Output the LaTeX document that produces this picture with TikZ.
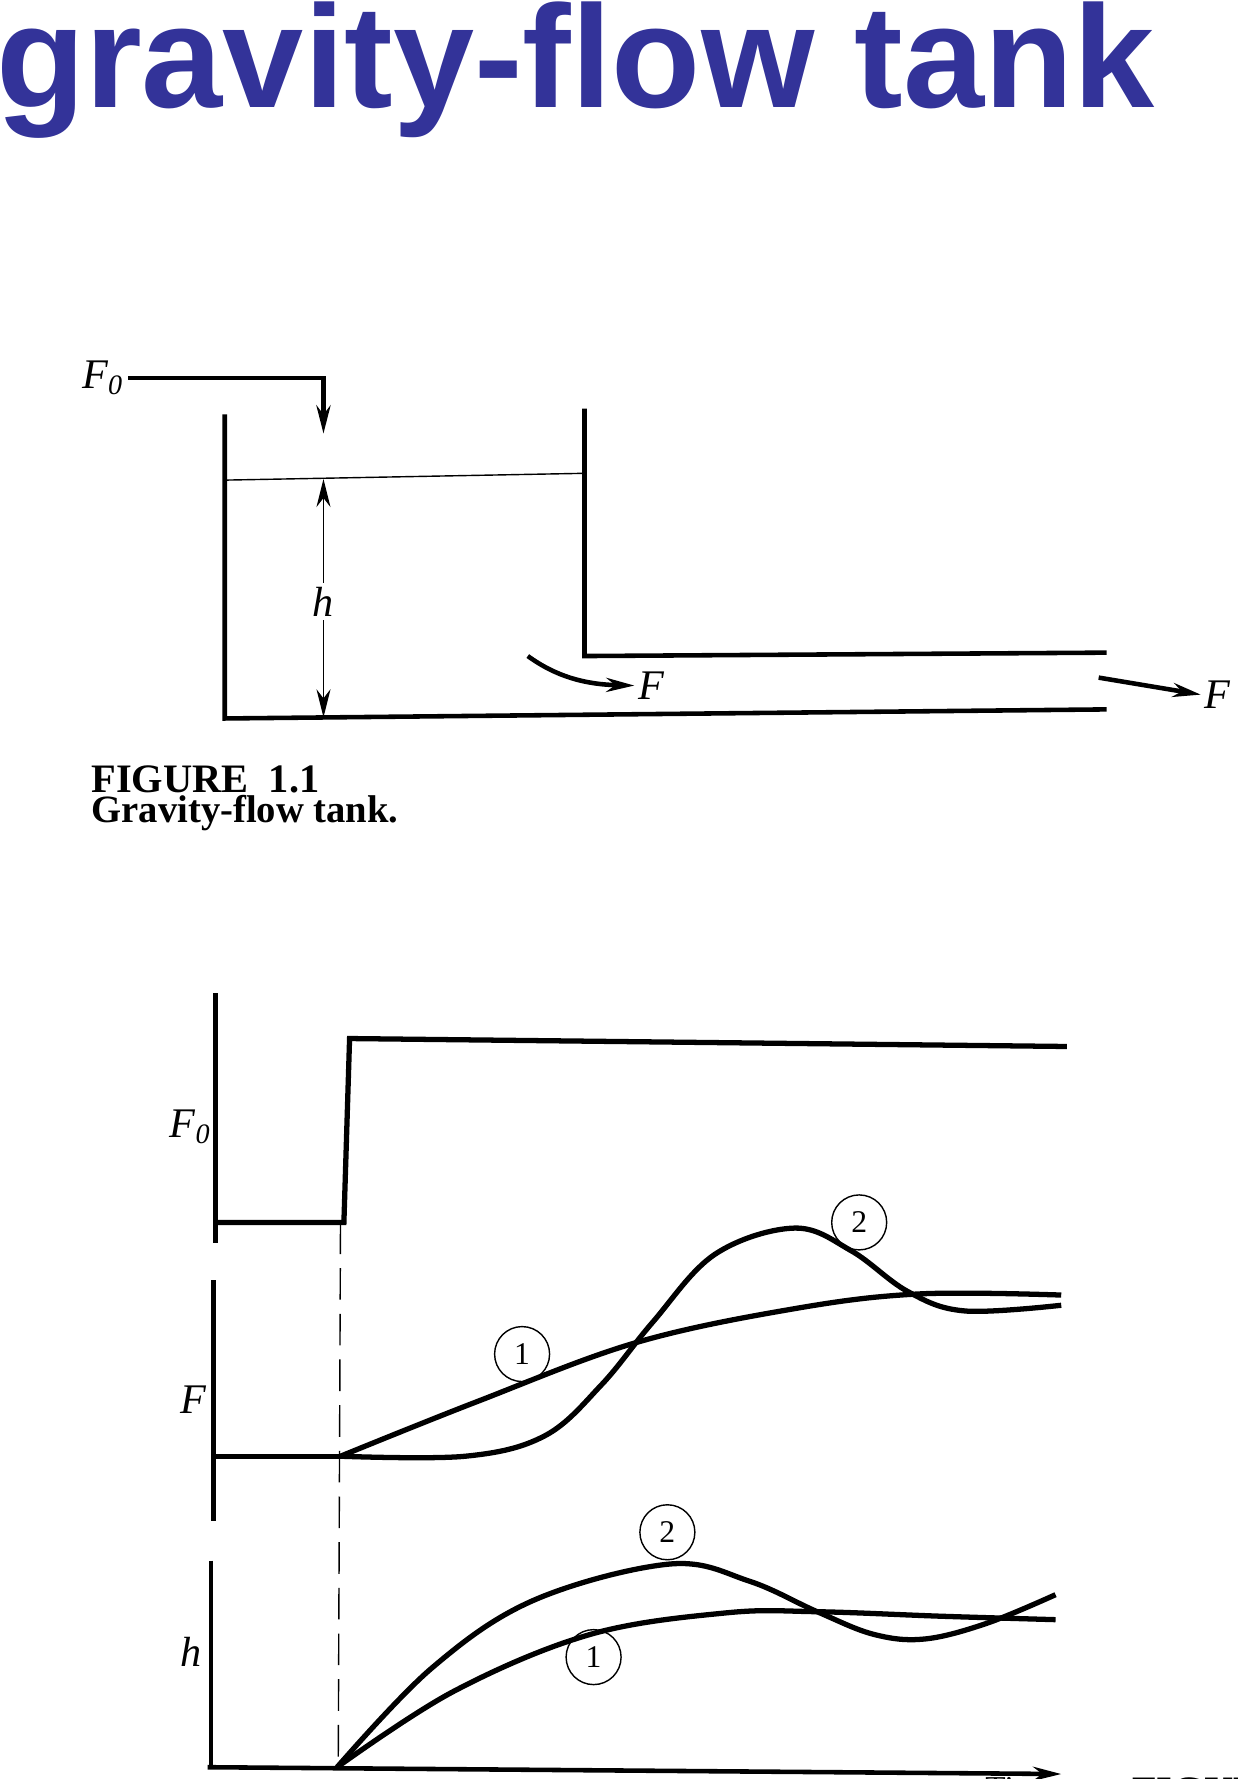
\documentclass[tikz,border=0pt]{standalone}
\usepackage{fontspec}
\setmainfont{Liberation Serif}
\newfontfamily\titlefont{Liberation Sans}
\usetikzlibrary{arrows.meta, positioning}
\definecolor{titleblue}{RGB}{51,51,153}
\begin{document}
\begin{tikzpicture}[x=0.01135cm, y=-0.01135cm,
  wall/.style={line width=1.3pt},
  curve/.style={line width=1.5pt},
  lbl/.style={font=\fontsize{12}{14}\selectfont\itshape, inner sep=1pt},
  num/.style={circle, draw, thin, inner sep=0.6pt, minimum size=0.55cm, font=\fontsize{9}{10}\selectfont},
  >={Stealth[length=8pt, width=4pt]}]
\useasboundingbox (0,0) rectangle (1090,1567.4);
\node[anchor=base, font=\titlefont\bfseries\fontsize{41.5}{48}\selectfont, text=titleblue] (title) at (507,95) {gravity-flow tank};
% tank
\node[lbl, anchor=east] (fin) at (113,333) {F\textsubscript{0}};
\coordinate (inlet) at (285,382);
\draw[wall, ->] (fin.east) -- (285,333) -- (inlet);
\draw[wall] (198,365) -- (198,633) -- (975,625);
\draw[wall] (515,360) -- (515,578) -- (975,575);
\draw[thin] (198,423) -- (515,417);
\coordinate (htop) at (285,422);
\coordinate (hbot) at (285,632);
\node[lbl] (hlab) at (285,530) {h};
\draw[thin, ->] (hlab) -- (htop);
\draw[thin, ->] (hlab) -- (hbot);
\node[lbl] (fout1) at (574,604) {F};
\coordinate (c1) at (465,578);
\draw[wall, ->] (c1) .. controls (490,596) and (515,603) .. (fout1.west);
\node[lbl] (fout2) at (1073,612) {F};
\coordinate (c2) at (968,597);
\draw[wall, ->] (c2) -- (fout2.west);
\node[anchor=base west, font=\fontsize{11.5}{13}\selectfont\bfseries, inner sep=0pt] (fig1) at (80,698) {FIGURE\ \ 1.1};
\node[anchor=base west, font=\fontsize{11}{13}\selectfont\bfseries, inner sep=0pt] (cap1) at (80,725) {Gravity-flow tank.};
% response plot
\draw[wall] (190,875) -- (190,1095);
\draw[wall] (188,1128) -- (188,1340);
\draw[wall] (186,1375) -- (186,1557);
\coordinate (torig) at (183,1557);
\node[font=\fontsize{9.5}{11}\selectfont, anchor=north east, inner sep=1pt] (tlab) at (933,1562) {Time};
\draw[wall, ->] (torig) -- (935,1563);
\node[anchor=north west, font=\fontsize{11.5}{13}\selectfont\bfseries, inner sep=0pt] (fig2) at (997,1566) {FIGURE\ \ 1.2};
\node[lbl] (yf0) at (168,993) {F\textsubscript{0}};
\node[lbl] (yf) at (170,1233) {F};
\node[lbl] (yh) at (168,1455) {h};
\draw[curve] (190,1077) -- (303,1077) -- (308,915) -- (940,922);
\draw[thin, dash pattern=on 9pt off 4pt] (300,1077) -- (298,1557);
\draw[curve] (186,1283) -- (300,1283);
\draw[curve] plot[smooth, tension=0.6] coordinates {(300,1283) (420,1235) (560,1183) (700,1153) (810,1140) (935,1141)};
\draw[curve] plot[smooth, tension=0.6] coordinates {(300,1283) (410,1283) (480,1265) (530,1220) (575,1165) (630,1105) (700,1082) (750,1102) (800,1138) (850,1155) (935,1150)};
\node[num] (n1f) at (460,1193) {1};
\node[num] (n2f) at (757,1077) {2};
\draw[curve] plot[smooth, tension=0.6] coordinates {(297,1557) (380,1470) (470,1410) (590,1378) (660,1393) (720,1420) (770,1440) (815,1444) (870,1430) (930,1405)};
\draw[curve] plot[smooth, tension=0.6] coordinates {(297,1557) (400,1490) (520,1440) (640,1421) (720,1420) (830,1424) (930,1427)};
\node[num] (n2h) at (588,1350) {2};
\node[num] (n1h) at (523,1460) {1};
\end{tikzpicture}
\end{document}
